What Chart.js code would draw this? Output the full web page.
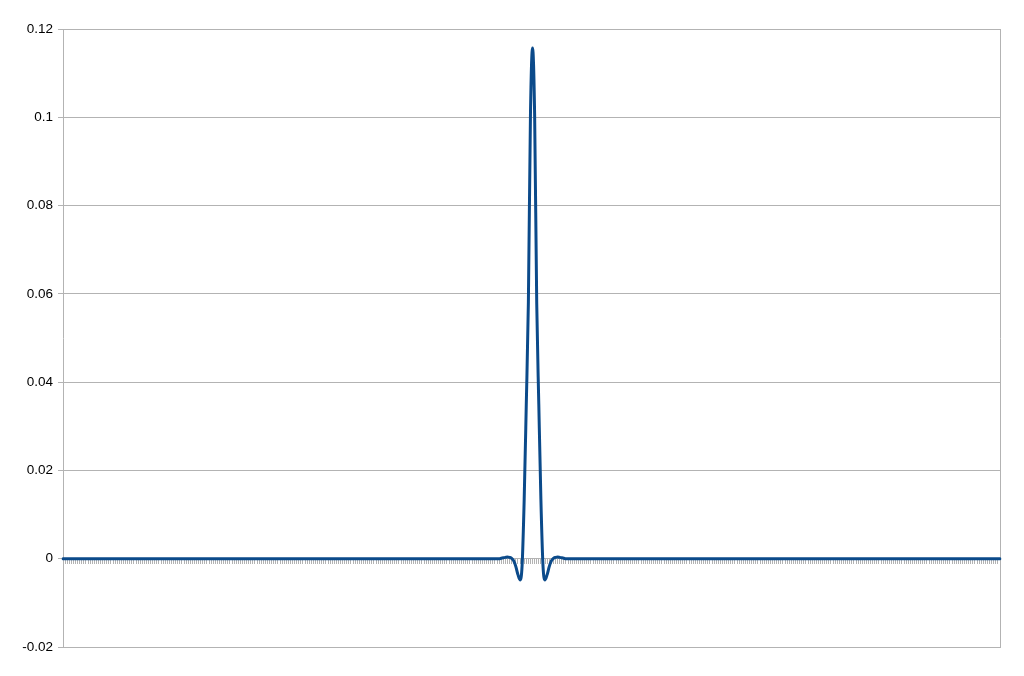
<!DOCTYPE html>
<html>
<head>
<meta charset="utf-8">
<script src="https://cdn.jsdelivr.net/npm/chart.js@4/dist/chart.umd.min.js"></script>
<style>
  html, body { margin: 0; padding: 0; background: #fff; }
  #wrap { width: 1024px; height: 676px; }
</style>
</head>
<body>
<div id="wrap"><canvas id="kernelChart" width="1024" height="676"></canvas></div>
<script>
// Dữ liệu: 450 mẫu, hầu hết bằng 0, đỉnh ở mẫu 225
const leftTail = [
  0,0,0,0,0,0,0,0,0,0, 0,0,0,0,0,0,0,0,0,0, 0,0,0,0,0,0,0,0,0,0,
  0,0,0,0,0,0,0,0,0,0, 0,0,0,0,0,0,0,0,0,0, 0,0,0,0,0,0,0,0,0,0,
  0,0,0,0,0,0,0,0,0,0, 0,0,0,0,0,0,0,0,0,0, 0,0,0,0,0,0,0,0,0,0,
  0,0,0,0,0,0,0,0,0,0, 0,0,0,0,0,0,0,0,0,0, 0,0,0,0,0,0,0,0,0,0,
  0,0,0,0,0,0,0,0,0,0, 0,0,0,0,0,0,0,0,0,0, 0,0,0,0,0,0,0,0,0,0,
  0,0,0,0,0,0,0,0,0,0, 0,0,0,0,0,0,0,0,0,0, 0,0,0,0,0,0,0,0,0,0,
  0,0,0,0,0,0,0,0,0,0, 0,0,0,0,0,0,0,0,0,0, 0,0,0,0,0,0,0,0,0,0
];

// vùng quanh đỉnh (31 mẫu)
const peakValues = [
  0.0001, 0.0002, 0.0003, 0.0004, 0.0003, 0.0001, -0.0005, -0.0018, -0.0036, -0.0048,
  -0.0015, 0.0135, 0.035, 0.058, 0.1005,
  0.1157,
  0.1005, 0.058, 0.035, 0.0135, -0.0015,
  -0.0048, -0.0036, -0.0018, -0.0005, 0.0001, 0.0003, 0.0004, 0.0003, 0.0002, 0.0001
];

const rightTail = [
  0,0,0,0,0,0,0,0,0,0, 0,0,0,0,0,0,0,0,0,0, 0,0,0,0,0,0,0,0,0,0,
  0,0,0,0,0,0,0,0,0,0, 0,0,0,0,0,0,0,0,0,0, 0,0,0,0,0,0,0,0,0,0,
  0,0,0,0,0,0,0,0,0,0, 0,0,0,0,0,0,0,0,0,0, 0,0,0,0,0,0,0,0,0,0,
  0,0,0,0,0,0,0,0,0,0, 0,0,0,0,0,0,0,0,0,0, 0,0,0,0,0,0,0,0,0,0,
  0,0,0,0,0,0,0,0,0,0, 0,0,0,0,0,0,0,0,0,0, 0,0,0,0,0,0,0,0,0,0,
  0,0,0,0,0,0,0,0,0,0, 0,0,0,0,0,0,0,0,0,0, 0,0,0,0,0,0,0,0,0,0,
  0,0,0,0,0,0,0,0,0,0, 0,0,0,0,0,0,0,0,0,0, 0,0,0,0,0,0,0,0,0
];

const yTickLabels = ['-0.02', '0', '0.02', '0.04', '0.06', '0.08', '0.1', '0.12'];

const seriesValues = leftTail.concat(peakValues, rightTail);
// nhãn trục x chỉ là số thứ tự mẫu (không hiển thị)
const categories = seriesValues.map((v, i) => String(i + 1));

const gridGray = '#b3b3b3';
const canvasElement = document.getElementById('kernelChart');

new Chart(canvasElement.getContext('2d'), {
    type: 'line',
    data: {
        labels: categories,
        datasets: [{
            label: 'Series',
            data: seriesValues,
            borderColor: '#0b4a8a',
            borderWidth: 3,
            pointRadius: 0,
            cubicInterpolationMode: 'monotone',
            borderJoinStyle: 'round',
            borderCapStyle: 'round',
            fill: false
        }]
    },
    options: {
        responsive: false,
        devicePixelRatio: 1,
        animation: false,
        layout: {
            padding: { left: 0, right: 24, top: 29, bottom: 29 }
        },
        plugins: {
            legend: { display: false },
            tooltip: { enabled: false },
            title: { display: false }
        },
        scales: {
            x: {
                type: 'category',
                position: { y: 0 },
                offset: false,
                grid: {
                    drawOnChartArea: false,
                    drawTicks: true,
                    tickLength: 5,
                    color: gridGray
                },
                border: { display: true, color: gridGray },
                ticks: { display: false, autoSkip: false }
            },
            y: {
                position: 'left',
                min: -0.02,
                max: 0.12,
                afterFit: function (scale) { scale.width = 63; },
                ticks: {
                    stepSize: 0.02,
                    padding: 5,
                    color: '#000',
                    font: { family: '"Liberation Sans", Arial, sans-serif', size: 13.5 },
                    callback: function (value, index) {
                        return yTickLabels[index];
                    }
                },
                grid: {
                    color: gridGray,
                    drawTicks: true,
                    tickLength: 5
                },
                border: { display: true, color: gridGray }
            },
            yRight: {
                position: 'right',
                afterFit: function (scale) { scale.width = 0; },
                ticks: { display: false },
                grid: { drawOnChartArea: false, drawTicks: false },
                border: { display: true, color: gridGray }
            }
        }
    }
});
</script>
</body>
</html>
